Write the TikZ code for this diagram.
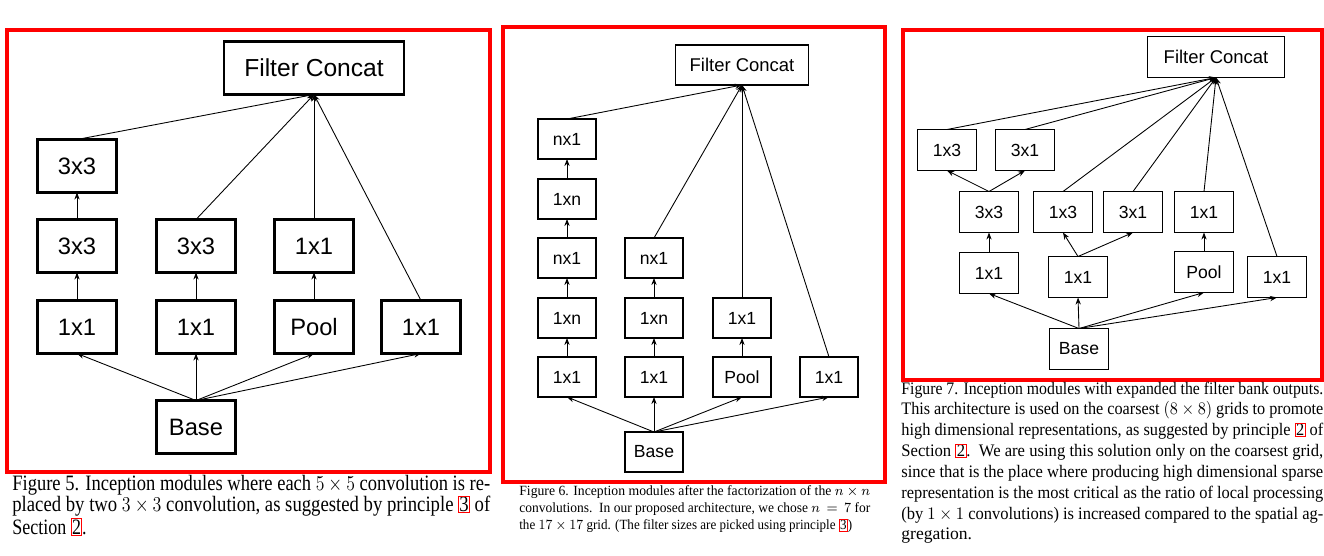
\documentclass[tikz,border=0pt]{standalone}
\usepackage{fontspec}
\setmainfont{Liberation Serif}
\newfontfamily\arial{Liberation Sans}
\usetikzlibrary{arrows.meta}
\newcommand{\rbx}[1]{{\setlength\fboxsep{0.3pt}\setlength\fboxrule{0.5pt}\fcolorbox{red}{white}{#1}}}
\newcommand{\capline}[2]{\resizebox{#1}{\height}{#2}}
\tikzset{
  redframe/.style={draw=red,line width=2.2pt},
  boxA/.style={draw,line width=1.5pt,inner sep=0pt,outer sep=0pt,minimum width=1.58cm,minimum height=1.06cm,font=\arial\fontsize{13.5}{15}\selectfont},
  catA/.style={boxA,minimum width=3.6cm,font=\arial\fontsize{14}{16}\selectfont},
  boxB/.style={draw,line width=1pt,inner sep=0pt,outer sep=0pt,minimum width=1.16cm,minimum height=0.8cm,font=\arial\fontsize{10}{12}\selectfont},
  catB/.style={boxB,minimum width=2.66cm,font=\arial\fontsize{10.5}{12}\selectfont},
  boxC/.style={draw,line width=1pt,inner sep=0pt,outer sep=0pt,minimum width=1.18cm,minimum height=0.82cm,font=\arial\fontsize{10}{12}\selectfont},
  catC/.style={boxC,minimum width=2.74cm,font=\arial\fontsize{10.5}{12}\selectfont},
  arr/.style={-{Stealth[length=4pt,width=3pt]},line width=0.5pt},
  capnode/.style={anchor=west,inner sep=0pt}
}
\begin{document}
\begin{tikzpicture}[x=0.02cm,y=-0.02cm]
\useasboundingbox[fill=white] (0,0) rectangle (1324,555);
% frames
\draw[redframe] (7,30) rectangle (490,472);
\draw[redframe] (503,27) rectangle (885,482);
\draw[redframe] (903,30) rectangle (1322,380);

% ---------- Figure 5
\node[catA] (fa) at (314,68) {Filter Concat};
\node[boxA] (a33t) at (77,166) {3x3};
\node[boxA] (a33) at (77,246) {3x3};
\node[boxA] (b33) at (196,246) {3x3};
\node[boxA] (c11) at (314,246) {1x1};
\node[boxA] (a11) at (77,327) {1x1};
\node[boxA] (b11) at (196,327) {1x1};
\node[boxA] (cpo) at (314,327) {Pool};
\node[boxA] (d11) at (421,327) {1x1};
\node[boxA] (abase) at (196,427) {Base};
\foreach \t in {a11,b11,cpo,d11} \draw[arr] (abase.north) -- (\t.south);
\draw[arr] (a11) -- (a33); \draw[arr] (a33) -- (a33t);
\draw[arr] (b11) -- (b33); \draw[arr] (cpo) -- (c11);
\foreach \s in {a33t,b33,c11,d11} \draw[arr] (\s.north) -- (fa.south);

% ---------- Figure 6
\node[catB] (fb) at (742,65) {Filter Concat};
\node[boxB] (p1) at (567,139) {nx1};
\node[boxB] (p2) at (567,199) {1xn};
\node[boxB] (p3) at (567,258) {nx1};
\node[boxB] (p4) at (567,318) {1xn};
\node[boxB] (p5) at (567,377) {1x1};
\node[boxB] (q3) at (654,258) {nx1};
\node[boxB] (q4) at (654,318) {1xn};
\node[boxB] (q5) at (654,377) {1x1};
\node[boxB] (r4) at (742,318) {1x1};
\node[boxB] (r5) at (742,377) {Pool};
\node[boxB] (s5) at (829,377) {1x1};
\node[boxB] (bbase) at (654,452) {Base};
\foreach \t in {p5,q5,r5,s5} \draw[arr] (bbase.north) -- (\t.south);
\draw[arr] (p5) -- (p4); \draw[arr] (p4) -- (p3); \draw[arr] (p3) -- (p2); \draw[arr] (p2) -- (p1);
\draw[arr] (q5) -- (q4); \draw[arr] (q4) -- (q3); \draw[arr] (r5) -- (r4);
\foreach \s in {p1,q3,r4,s5} \draw[arr] (\s.north) -- (fb.south);

% ---------- Figure 7
\node[catC] (fc) at (1216,57) {Filter Concat};
\node[boxC] (u1) at (947,150) {1x3};
\node[boxC] (u2) at (1025,150) {3x1};
\node[boxC] (v1) at (989,212) {3x3};
\node[boxC] (v2) at (1063,212) {1x3};
\node[boxC] (v3) at (1133,212) {3x1};
\node[boxC] (v4) at (1204,212) {1x1};
\node[boxC] (w1) at (989,273) {1x1};
\node[boxC] (w2) at (1078,277) {1x1};
\node[boxC] (w3) at (1204,272) {Pool};
\node[boxC] (w4) at (1277,277) {1x1};
\node[boxC] (cbase) at (1079,349) {Base};
\foreach \t in {w1,w2,w3,w4} \draw[arr] (cbase.north) -- (\t.south);
\draw[arr] (w1) -- (v1); \draw[arr] (w3) -- (v4);
\draw[arr] (w2.north) -- (v2.south); \draw[arr] (w2.north) -- (v3.south);
\draw[arr] (v1.north) -- (u1.south); \draw[arr] (v1.north) -- (u2.south);
\foreach \s in {u1,u2,v2,v3,v4,w4} \draw[arr] (\s.north) -- (fc.south);

% ---------- Captions
\begin{scope}[every node/.style={capnode}]
\node (c5a) at (12,485) {\fontsize{12.5}{14}\selectfont\capline{9.56cm}{Figure 5. Inception modules where each $5\times 5$ convolution is re-}};
\node (c5b) at (12,506) {\fontsize{12.5}{14}\selectfont\capline{9.56cm}{placed by two $3\times 3$ convolution, as suggested by principle \rbx{3} of}};
\node (c5c) at (12,527) {\fontsize{12.5}{14}\selectfont\scalebox{0.82}[1]{Section \rbx{2}.}};

\node (c6a) at (519,492) {\fontsize{8}{9}\selectfont\capline{7.02cm}{Figure 6. Inception modules after the factorization of the $n\times n$}};
\node (c6b) at (519,509) {\fontsize{8}{9}\selectfont\capline{7.02cm}{convolutions.\ \ In our proposed architecture, we chose $n\,=\,7$ for}};
\node (c6c) at (519,526) {\fontsize{8}{9}\selectfont\capline{6.66cm}{the $17\times 17$ grid. (The filter sizes are picked using principle \rbx{3})}};

\node (c7a) at (901,390) {\fontsize{10}{11}\selectfont\capline{8.44cm}{Figure 7. Inception modules with expanded the filter bank outputs.}};
\node (c7b) at (901,410) {\fontsize{10}{11}\selectfont\capline{8.44cm}{This architecture is used on the coarsest $(8\times 8)$ grids to promote}};
\node (c7c) at (901,431) {\fontsize{10}{11}\selectfont\capline{8.44cm}{high dimensional representations, as suggested by principle \rbx{2} of}};
\node (c7d) at (901,452) {\fontsize{10}{11}\selectfont\capline{8.44cm}{Section \rbx{2}.\ \ We are using this solution only on the coarsest grid,}};
\node (c7e) at (901,473) {\fontsize{10}{11}\selectfont\capline{8.44cm}{since that is the place where producing high dimensional sparse}};
\node (c7f) at (901,494) {\fontsize{10}{11}\selectfont\capline{8.44cm}{representation is the most critical as the ratio of local processing}};
\node (c7g) at (901,515) {\fontsize{10}{11}\selectfont\capline{8.44cm}{(by $1\times 1$ convolutions) is increased compared to the spatial ag-}};
\node (c7h) at (901,536) {\fontsize{10}{11}\selectfont gregation.};
\end{scope}
\end{tikzpicture}
\end{document}
